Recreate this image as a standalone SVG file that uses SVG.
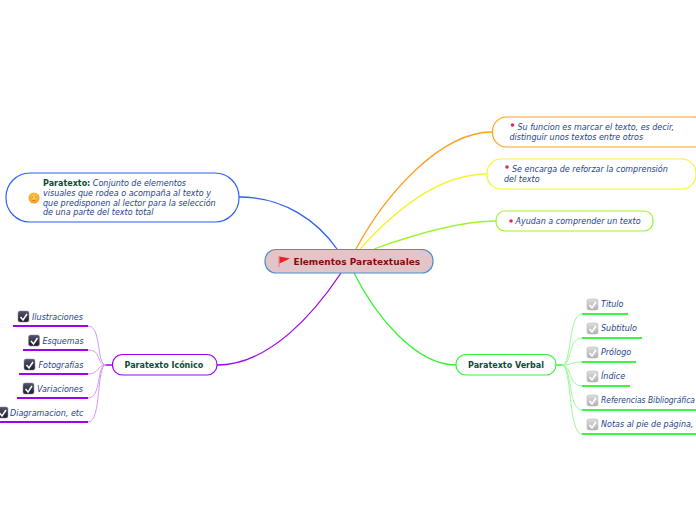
<svg xmlns="http://www.w3.org/2000/svg" width="696" height="520" viewBox="0 0 696 520">
<defs>
<linearGradient id="gg" x1="0" y1="0" x2="0" y2="1"><stop offset="0" stop-color="#dcdee0"/><stop offset="1" stop-color="#b0b2b6"/></linearGradient>
<linearGradient id="gd" x1="0" y1="0" x2="0" y2="1"><stop offset="0" stop-color="#55566c"/><stop offset="1" stop-color="#1c1c30"/></linearGradient>
<radialGradient id="face" cx=".5" cy=".4" r=".6"><stop offset="0" stop-color="#fcd25a"/><stop offset="1" stop-color="#f59a1a"/></radialGradient>
</defs>
<style>
text{font-family:"DejaVu Sans",Verdana,sans-serif;font-size:8px}
.t{font-style:italic;fill:#243f8a}
.b{font-weight:bold;fill:#0f4a35}
.n{fill:#fff;stroke-width:1.2}
.bul{fill:#e0285a}
.box-g{fill:url(#gg);stroke:#b4b4b8;stroke-width:.5}
.box-d{fill:url(#gd);stroke:#8a8a98;stroke-width:.5}
.chk{fill:none;stroke:#fff;stroke-width:1.5}
.line-g{stroke:#3cf53c;stroke-width:1.8;fill:none}
.line-p{stroke:#a000f0;stroke-width:1.8;fill:none}
.m{fill:none;stroke-width:1.3}
.lg{stroke:#9bfa9b;stroke-width:1;fill:none}
.lp{stroke:#d596fa;stroke-width:1;fill:none}
</style>
<g id="connectors">
<path class="m" d="M337 249C318 222 285 197 239 197" stroke="#2f5ff5"/>
<path class="m" d="M356 249C385 195 440 132 492 132" stroke="#ffa020"/>
<path class="m" d="M360 249C395 210 440 174 487 174" stroke="#f4f42c"/>
<path class="m" d="M374 249C410 236 460 221 496 221" stroke="#9cf52c"/>
<path class="m" d="M354 273C375 315 415 365 456 365" stroke="#33f533"/>
<path class="m" d="M341 273C315 312 270 365 217 365" stroke="#a000f0"/>
<path class="lg" d="M562 365C572 365 568 314 582 314"/>
<path class="lg" d="M562 365C572 365 568 338 582 338"/>
<path class="lg" d="M562 365C572 365 570 362 582 362"/>
<path class="lg" d="M562 365C572 365 568 386 582 386"/>
<path class="lg" d="M562 365C572 365 568 410 582 410"/>
<path class="lg" d="M562 365C572 365 568 434 582 434"/>
<path class="lp" d="M106 365C96 365 102 326 88 326"/>
<path class="lp" d="M106 365C96 365 102 350 88 350"/>
<path class="lp" d="M106 365C96 365 100 374 88 374"/>
<path class="lp" d="M106 365C96 365 102 398 88 398"/>
<path class="lp" d="M106 365C96 365 102 422 88 422"/>
</g>
<g id="central">
<rect x="265" y="249.500" width="168" height="23.500" rx="11" fill="#e3c4c8" stroke="#4a90d0" stroke-width="1.200"/>
<path d="M279 256V267" stroke="#c98a8a" stroke-width="1" fill="none"/>
<path d="M279.500 256.500L290 258.500L279.500 263.500Z" fill="#f02020"/>
<text x="293.500" y="265" font-weight="bold" fill="#8a0a0a" style="font-size:9px">Elementos Paratextuales</text>
</g>
<g id="paratexto">
<rect x="6" y="173" width="233" height="49" rx="24" class="n" stroke="#2f5ff5"/>
<circle cx="34" cy="198" r="5.500" fill="url(#face)"/>
<path d="M31.500 197h1.500M35 197h1.500M32.500 200.500h3" stroke="#b86a10" stroke-width=".7" fill="none"/>
<text x="43" y="186"><tspan class="b">Paratexto:</tspan><tspan class="t"> Conjunto de elementos</tspan></text>
<text x="43" y="196" class="t">visuales que rodea o acompaña al texto y</text>
<text x="43" y="205.500" class="t">que predisponen al lector para la selección</text>
<text x="43" y="215" class="t">de una parte del texto total</text>
</g>
<g id="r1">
<rect x="492.500" y="117" width="215" height="30" rx="14" class="n" stroke="#ffa020"/>
<circle cx="512.500" cy="125" r="1.800" class="bul"/>
<text x="517.500" y="130" class="t">Su funcion es marcar el texto, es decir,</text>
<text x="509.500" y="140" class="t">distinguir unos textos entre otros</text>
</g>
<g id="r2">
<rect x="487" y="159" width="209" height="30" rx="14" class="n" stroke="#f4f42c"/>
<circle cx="507" cy="167" r="1.800" class="bul"/>
<text x="512" y="172" class="t">Se encarga de reforzar la comprensión</text>
<text x="504" y="182" class="t">del texto</text>
</g>
<g id="r3">
<rect x="496" y="211" width="157" height="20" rx="9" class="n" stroke="#9cf52c"/>
<circle cx="511" cy="221" r="1.800" class="bul"/>
<text x="515.500" y="224" class="t">Ayudan a comprender un texto</text>
</g>
<g id="verbal">
<rect x="456" y="354.500" width="100" height="20.500" rx="10" class="n" stroke="#33f533"/>
<text x="468" y="368" class="b">Paratexto Verbal</text>
<path d="M556 365H562" stroke="#33f533" stroke-width="1.500"/>
</g>
<g id="iconico">
<rect x="112.500" y="354.500" width="104.500" height="20.500" rx="10" class="n" stroke="#a000f0"/>
<text x="124.500" y="368" class="b">Paratexto Icónico</text>
<path d="M106 365H112" stroke="#a000f0" stroke-width="1.500"/>
</g>
<g id="v1"><rect x="587" y="299" width="11" height="11" rx="2" class="box-g"/><path d="M589.500 305L592 308L596 302" class="chk"/><text x="601" y="307" class="t">Titulo</text><path d="M582 314H628" class="line-g"/></g>
<g id="v2"><rect x="587" y="323" width="11" height="11" rx="2" class="box-g"/><path d="M589.500 329L592 332L596 326" class="chk"/><text x="601" y="331" class="t">Subtitulo</text><path d="M582 338H642" class="line-g"/></g>
<g id="v3"><rect x="587" y="347" width="11" height="11" rx="2" class="box-g"/><path d="M589.500 353L592 356L596 350" class="chk"/><text x="601" y="355" class="t">Prólogo</text><path d="M582 362H636" class="line-g"/></g>
<g id="v4"><rect x="587" y="371" width="11" height="11" rx="2" class="box-g"/><path d="M589.500 377L592 380L596 374" class="chk"/><text x="601" y="379" class="t">Índice</text><path d="M582 386H630" class="line-g"/></g>
<g id="v5"><rect x="587" y="395" width="11" height="11" rx="2" class="box-g"/><path d="M589.500 401L592 404L596 398" class="chk"/><text x="601" y="403" class="t" textLength="94" lengthAdjust="spacingAndGlyphs">Referencias Bibliográfica</text><path d="M582 410H696" class="line-g"/></g>
<g id="v6"><rect x="587" y="419" width="11" height="11" rx="2" class="box-g"/><path d="M589.500 425L592 428L596 422" class="chk"/><text x="601" y="427" class="t">Notas al pie de página,</text><path d="M582 434H696" class="line-g"/></g>
<g id="i1"><rect x="18" y="311" width="11" height="11" rx="2" class="box-d"/><path d="M20.500 317L23 320L27 314" class="chk"/><text x="32" y="320" class="t">Ilustraciones</text><path d="M13 326H88" class="line-p"/></g>
<g id="i2"><rect x="28.500" y="335" width="11" height="11" rx="2" class="box-d"/><path d="M31 341L33.500 344L37.500 338" class="chk"/><text x="42.500" y="344" class="t">Esquemas</text><path d="M23 350H88" class="line-p"/></g>
<g id="i3"><rect x="24" y="359" width="11" height="11" rx="2" class="box-d"/><path d="M26.500 365L29 368L33 362" class="chk"/><text x="38.500" y="368" class="t">Fotografías</text><path d="M19 374H88" class="line-p"/></g>
<g id="i4"><rect x="23" y="383" width="11" height="11" rx="2" class="box-d"/><path d="M25.500 389L28 392L32 386" class="chk"/><text x="37" y="392" class="t">Variaciones</text><path d="M17 398H88" class="line-p"/></g>
<g id="i5"><rect x="-3" y="407" width="11" height="11" rx="2" class="box-d"/><path d="M-.5 413L2 416L6 410" class="chk"/><text x="10" y="416" class="t">Diagramacion, etc</text><path d="M-4 422H88" class="line-p"/></g>
</svg>
